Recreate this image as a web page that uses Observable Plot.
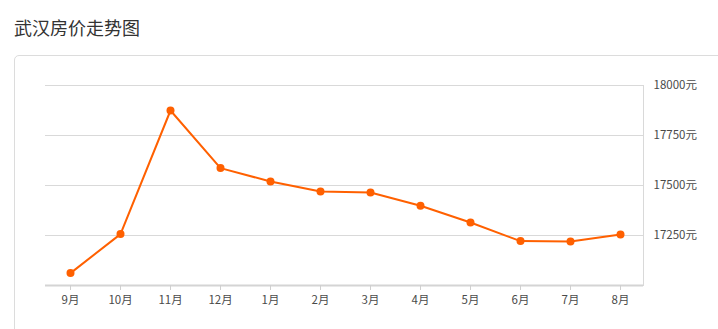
<!DOCTYPE html>
<html>
<head>
<meta charset="utf-8">
<script src="https://cdn.jsdelivr.net/npm/d3@7"></script>
<script src="https://cdn.jsdelivr.net/npm/@observablehq/plot@0.6"></script>
<style>
  html, body { margin: 0; padding: 0; background: #fff; width: 718px; height: 329px; overflow: hidden; }
  body { position: relative; font-family: "Noto Sans CJK SC", "Noto Sans", sans-serif; }
  #title { position: absolute; left: 14px; top: 14px; font-size: 18px; line-height: 26px; color: #333; }
  #box { position: absolute; left: 14px; top: 55px; width: 760px; height: 320px; border: 1px solid #dcdcdc; border-radius: 5px; box-sizing: border-box; }
  #chart { position: absolute; left: 0; top: 0; }
</style>
</head>
<body>
<div id="title">武汉房价走势图</div>
<div id="box"></div>
<div id="chart"></div>
<script>
const months = ["9月","10月","11月","12月","1月","2月","3月","4月","5月","6月","7月","8月"];
const prices = [17062, 17257, 17875, 17587, 17520, 17470, 17465, 17399, 17315, 17222, 17220, 17255];
const yTicks = [17250, 17500, 17750, 18000];
const yUnit = "元";

const data = months.map((m, i) => ({month: m, price: prices[i]}));
const orange = "#ff6000";

const chart = Plot.plot({
  width: 718,
  height: 329,
  marginLeft: 45,
  marginRight: 75,
  marginTop: 85,
  marginBottom: 44,
  style: {fontFamily: '"Noto Sans CJK SC", "Noto Sans", sans-serif', fontSize: "11.5px", color: "#4a4a4a", background: "transparent"},
  x: {type: "point", domain: months, padding: 0, range: [69.5, 619.5]},
  y: {domain: [17000, 18000]},
  marks: [
    Plot.gridY(yTicks, {stroke: "#d9d9d9", strokeOpacity: 1}),
    Plot.frame({anchor: "right", stroke: "#d9d9d9"}),
    Plot.ruleY([17000], {stroke: "#d4d4d4", strokeWidth: 2}),
    Plot.axisX({tickSize: 5, tickPadding: 5, stroke: "#cfcfcf", fill: "#4a4a4a", label: null}),
    Plot.axisY(yTicks, {anchor: "right", tickSize: 0, tickPadding: 10, tickFormat: d => d + yUnit, fill: "#4a4a4a", label: null}),
    Plot.line(data, {x: "month", y: "price", stroke: orange, strokeWidth: 2}),
    Plot.dot(data, {x: "month", y: "price", r: 4, fill: orange, stroke: "none"})
  ]
});
document.getElementById("chart").appendChild(chart);
</script>
</body>
</html>
